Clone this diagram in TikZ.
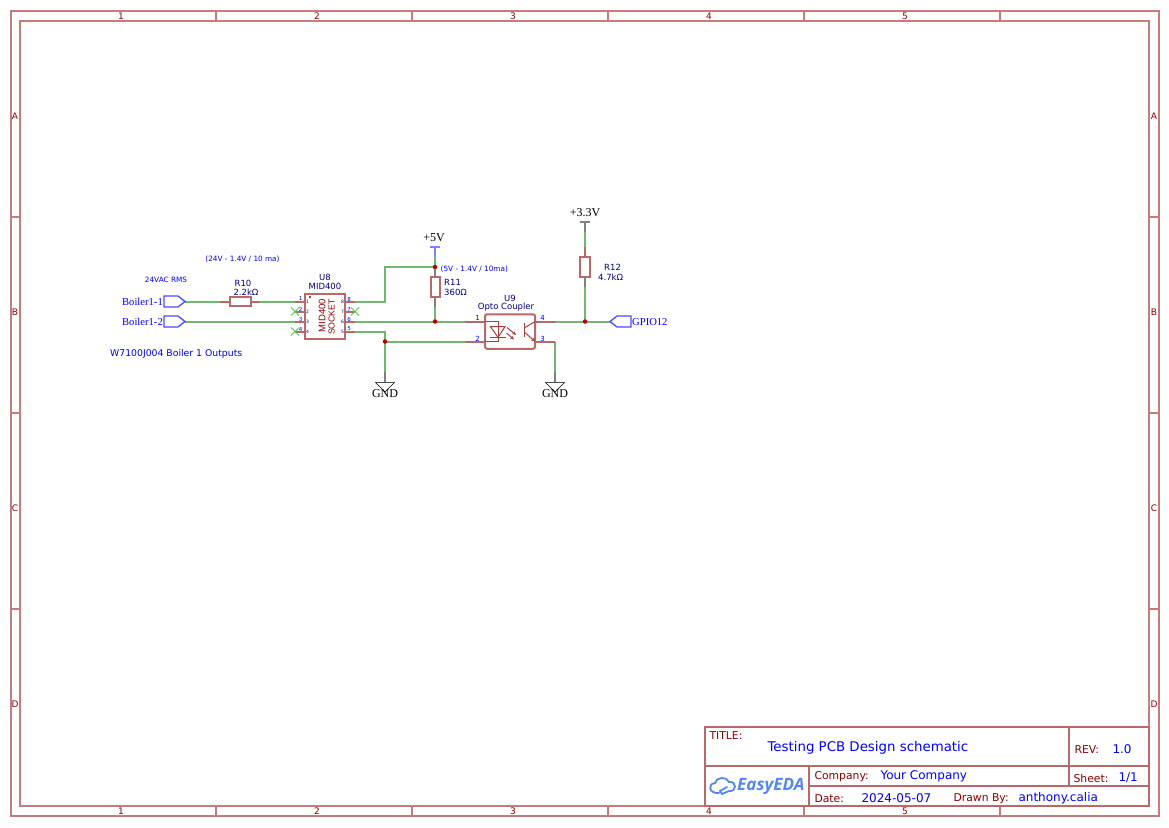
\documentclass[tikz,border=0pt]{standalone}
\usepackage{fontspec}
\setmainfont{DejaVu Sans}
\newfontfamily\netfont{Liberation Serif}
\newfontfamily\partfont{Liberation Sans}
\newfontfamily\logofont{Open Sans}
\usetikzlibrary{arrows.meta}
\definecolor{fr}{HTML}{880000}
\definecolor{fp}{HTML}{C47C7C}
\definecolor{gn}{HTML}{70B870}
\definecolor{tx}{HTML}{0000FF}
\definecolor{np}{HTML}{000080}
\definecolor{pn}{HTML}{808080}
\definecolor{pr}{HTML}{B86A6A}
\definecolor{lg}{HTML}{5588EE}
\definecolor{nc}{HTML}{55CC55}
\tikzset{
  frameline/.style={draw=fp, line width=2pt},
  titleline/.style={draw=pr, line width=2pt},
  netwire/.style={draw=gn, line width=2pt},
  pinline/.style={draw=pr, line width=2pt},
  stemline/.style={draw=pn, line width=2pt},
  bluestem/.style={draw=tx!50!white, line width=2pt},
  partbox/.style={draw=pr, line width=2pt, inner sep=0pt},
  symline/.style={draw=fr!75!white, line width=1pt},
  junction/.style={circle, fill=fr!60!red, inner sep=0pt, minimum size=4.5pt},
  ticktext/.style={text=fr, font=\fontsize{9}{9}\selectfont},
  titlekey/.style={anchor=west, text=fr, font=\fontsize{10.8}{10.8}\selectfont},
  titleval/.style={anchor=west, text=tx, font=\fontsize{12}{12}\selectfont},
  reflabel/.style={text=np, font=\fontsize{8.5}{8.5}\selectfont},
  notelabel/.style={text=tx, font=\fontsize{7.3}{7.3}\selectfont},
  pinnum/.style={text=tx, font=\fontsize{5.5}{5.5}\selectfont, inner sep=0pt},
  pinname/.style={text=np, font=\fontsize{4.5}{4.5}\selectfont, inner sep=0pt},
  netlabel/.style={text=tx, font=\netfont\fontsize{10.6}{10.6}\selectfont},
  powerlabel/.style={text=black, font=\netfont\fontsize{12}{12}\selectfont},
  netport/.pic={\draw[draw=tx!70!white, line width=1.3pt] (-21,-5.5) -- (-7,-5.5) -- (0,0) -- (-7,5.5) -- (-21,5.5) -- cycle;},
  netportl/.pic={\draw[draw=tx!70!white, line width=1.3pt] (21,-5.5) -- (7,-5.5) -- (0,0) -- (7,5.5) -- (21,5.5) -- cycle;},
  nomark/.pic={\draw[draw=nc, line width=0.8pt] (-4,-4) -- (4,4) (-4,4) -- (4,-4);},
  gndmark/.pic={\draw[draw=black, line width=0.6pt] (-10,0) -- (0,10) -- (10,0); \draw[draw=black!70!white, line width=1pt] (-10,0) -- (10,0);}
}
\begin{document}
\begin{tikzpicture}[x=1pt, y=-1pt]
  \useasboundingbox (0,0) rectangle (1169,827);

  % Sheet frame
  \draw[frameline] (10.5,11) rectangle (1159,816);
  \draw[frameline] (20,21) rectangle (1149,806);
  \foreach \x in {216,412,608,804,1000} {
    \draw[frameline] (\x,11) -- ++(0,10);
    \draw[frameline] (\x,806) -- ++(0,10);
  }
  \foreach \y in {217,413,609} {
    \draw[frameline] (10.5,\y) -- ++(9.5,0);
    \draw[frameline] (1149,\y) -- ++(10,0);
  }
  \foreach \x/\t in {121/1,317/2,513/3,709/4,905/5} {
    \node[ticktext] (top\t) at (\x,16) {\t};
    \node[ticktext] (bot\t) at (\x,811) {\t};
  }
  \foreach \y/\t in {116/A,312/B,508/C,704/D} {
    \node[ticktext] (left\t) at (15,\y) {\t};
    \node[ticktext] (right\t) at (1154,\y) {\t};
  }

  % Title block
  \draw[titleline] (705,727) rectangle (1149,806);
  \draw[titleline] (705,766) -- (1149,766);
  \draw[titleline] (809,786) -- (1149,786);
  \draw[titleline] (1069,727) -- (1069,786);
  \draw[titleline] (809,766) -- (809,806);
  \node[titlekey] (titlekey) at (706,735.5) {TITLE:};
  \node[titleval, font=\fontsize{13.35}{13.35}\selectfont] (titleval) at (764,748) {Testing PCB Design schematic};
  \node[titlekey] (revkey) at (1071,749.5) {REV:};
  \node[titleval] (revval) at (1109,749) {1.0};
  \node[titlekey] (compkey) at (811,777) {Company:};
  \node[titleval] (compval) at (877,776) {Your Company};
  \node[titlekey] (sheetkey) at (1070,778) {Sheet:};
  \node[titleval] (sheetval) at (1115,778) {1/1};
  \node[titlekey] (datekey) at (811,798.5) {Date:};
  \node[titleval] (dateval) at (858,798) {2024-05-07};
  \node[titlekey] (drawnkey) at (950,798.5) {Drawn By:};
  \node[titleval] (drawnval) at (1015,798) {anthony.calia};

  % Logo
  \draw[draw=lg, line width=1.8pt, line cap=round] (719,793) .. controls (709,794) and (707,784) .. (715,783)
    .. controls (716,777) and (727,776) .. (729,782) .. controls (737,781) and (737,792) .. (729,791)
    -- (722,794) -- (720,791) -- (727,787);
  \node[anchor=west, text=lg, inner sep=0pt, font=\logofont\bfseries\itshape\fontsize{17}{17}\selectfont] (logotext) at (737,786.5) {EasyEDA};

  % Pins
  \coordinate (portA) at (185,301.5);
  \coordinate (portB) at (185,321.5);
  \coordinate (u8p1) at (295,301.5);
  \coordinate (u8p2) at (295,311.5);
  \coordinate (u8p3) at (295,321.5);
  \coordinate (u8p4) at (295,331.5);
  \coordinate (u8p8) at (355,301.5);
  \coordinate (u8p7) at (355,311.5);
  \coordinate (u8p6) at (355,321.5);
  \coordinate (u8p5) at (355,331.5);
  \coordinate (u9p1) at (465,321.5);
  \coordinate (u9p2) at (465,341.5);
  \coordinate (u9p4) at (555,321.5);
  \coordinate (u9p3) at (555,341.5);
  \coordinate (portC) at (610,321.5);
  \coordinate (elbowA) at (385,301.5);
  \coordinate (elbowB) at (385,267);
  \coordinate (elbowC) at (385,331.5);
  \coordinate (gndA) at (385,372);
  \coordinate (gndB) at (555,372);
  \coordinate (vccA) at (435,257);
  \coordinate (vccB) at (585,232);
  \coordinate (r10a) at (220,301.5);
  \coordinate (r10b) at (260,301.5);
  \coordinate (r11a) at (435,267);
  \coordinate (r11b) at (435,307);
  \coordinate (r12a) at (585,247);
  \coordinate (r12b) at (585,287);
  \coordinate (dotA) at (435,321.5);
  \coordinate (dotB) at (385,341.5);
  \coordinate (dotC) at (585,321.5);

  % Wires
  \draw[netwire] (portA) -- (r10a);
  \draw[netwire] (r10b) -- (u8p1);
  \draw[netwire] (portB) -- (u8p3);
  \draw[netwire] (u8p8) -- (elbowA) -- (elbowB) -- (r11a);
  \draw[netwire] (vccA) -- (r11a);
  \draw[netwire] (r11b) -- (dotA);
  \draw[netwire] (u8p6) -- (dotA) -- (u9p1);
  \draw[netwire] (u8p5) -- (elbowC) -- (dotB) -- (gndA);
  \draw[netwire] (dotB) -- (u9p2);
  \draw[netwire] (u9p4) -- (dotC) -- (portC);
  \draw[netwire] (u9p3) -- (gndB);
  \draw[netwire] (vccB) -- (r12a);
  \draw[netwire] (r12b) -- (dotC);

  % Junctions
  \node[junction] (j5v) at (r11a) {};
  \node[junction] (jr11) at (dotA) {};
  \node[junction] (jgnd) at (dotB) {};
  \node[junction] (jr12) at (dotC) {};

  % Ports
  \pic at (portA) {netport};
  \pic at (portB) {netport};
  \pic at (portC) {netportl};
  \node[netlabel, anchor=east, inner sep=0pt] (netA) at (163,302) {Boiler1-1};
  \node[netlabel, anchor=east, inner sep=0pt] (netB) at (163,322) {Boiler1-2};
  \node[netlabel, anchor=west, inner sep=0pt] (netC) at (632,322) {GPIO12};

  % R10
  \node[partbox, minimum width=21pt, minimum height=9pt] (R10) at (240,301.5) {};
  \draw[pinline] (r10a) -- (R10.west);
  \draw[pinline] (R10.east) -- (r10b);
  \node[reflabel] (R10ref) at (243,283) {R10};
  \node[reflabel] (R10val) at (246,292) {2.2kΩ};

  % R11
  \node[partbox, minimum width=9pt, minimum height=20.5pt] (R11) at (435,287) {};
  \draw[stemline] (j5v) -- (R11.north);
  \draw[stemline] (R11.south) -- (r11b);
  \node[reflabel, anchor=west, inner sep=0pt] (R11ref) at (444,282) {R11};
  \node[reflabel, anchor=west, inner sep=0pt] (R11val) at (444,292) {360Ω};

  % R12
  \node[partbox, minimum width=10pt, minimum height=20.5pt] (R12) at (585,267) {};
  \draw[pinline] (r12a) -- (R12.north);
  \draw[stemline] (R12.south) -- (r12b);
  \node[reflabel, anchor=west, inner sep=0pt] (R12ref) at (604,267) {R12};
  \node[reflabel, anchor=west, inner sep=0pt] (R12val) at (598,277) {4.7kΩ};

  % U8
  \node[partbox, minimum width=40.5pt, minimum height=44.5pt] (U8) at (325,316.5) {};
  \foreach \n in {1,2,3,4} {
    \draw[pinline] (u8p\n) -- ++(10,0);
  }
  \foreach \n in {5,6,7,8} {
    \draw[pinline] (u8p\n) -- ++(-10,0);
  }
  \fill[fr] (310,297) circle (1.2pt);
  \node[reflabel] (U8ref) at (325,277) {U8};
  \node[reflabel] (U8val) at (325,286) {MID400};
  \node[rotate=90, text=fr, inner sep=0pt, font=\partfont\fontsize{9.5}{9.5}\selectfont] (U8nameA) at (322,315.5) {MID400};
  \node[rotate=90, text=fr, inner sep=0pt, font=\partfont\fontsize{8.7}{8.7}\selectfont] (U8nameB) at (331.5,317) {SOCKET};
  \foreach \n/\y in {1/298.5,2/309,3/319,4/329} {
    \node[pinnum] (u8num\n) at (300.5,\y) {\n};
  }
  \foreach \n/\y in {8/299,7/309,6/319,5/329} {
    \node[pinnum] (u8num\n) at (349,\y) {\n};
  }
  \foreach \n/\y in {1/301.5,2/311.5,3/321.5,4/331.5} {
    \node[pinname] (u8in\n) at (307.5,\y) {\n};
  }
  \foreach \n/\y in {8/301.5,7/311.5,6/321.5,5/331.5} {
    \node[pinname] (u8in\n) at (342.5,\y) {\n};
  }
  \pic at (u8p2) {nomark};
  \pic at (u8p4) {nomark};
  \pic at (u8p7) {nomark};

  % U9
  \node[partbox, rounded corners=2pt, minimum width=50pt, minimum height=34.5pt] (U9) at (510,331.5) {};
  \draw[pinline] (u9p1) -- ++(20,0);
  \draw[pinline] (u9p2) -- ++(20,0);
  \draw[pinline] (u9p4) -- ++(-20,0);
  \draw[pinline] (u9p3) -- ++(-20,0);
  \draw[symline] (485,321.5) -- (498,321.5) -- (498,341.5) -- (485,341.5);
  \draw[symline] (490.5,326.7) -- (505,326.7) -- (498,337.3) -- cycle;
  \draw[symline] (489.5,337.3) -- (506,337.3);
  \draw[symline, -{Stealth[length=4pt,width=3.5pt]}] (507,327.5) -- (516,335);
  \draw[symline, -{Stealth[length=4pt,width=3.5pt]}] (506.5,333) -- (514,339.5);
  \draw[symline] (524.3,323) -- (524.3,337);
  \draw[symline] (524.3,328) -- (535,321.5);
  \draw[symline, -{Stealth[length=4pt,width=3.5pt]}] (524.3,332) -- (535,341.5);
  \node[reflabel] (U9ref) at (510,298) {U9};
  \node[reflabel] (U9val) at (506,307) {Opto Coupler};
  \node[pinnum, font=\fontsize{7}{7}\selectfont] (u9num1) at (477.5,318) {1};
  \node[pinnum, font=\fontsize{7}{7}\selectfont] (u9num2) at (477.5,338.5) {2};
  \node[pinnum, font=\fontsize{7}{7}\selectfont] (u9num4) at (542.5,318) {4};
  \node[pinnum, font=\fontsize{7}{7}\selectfont] (u9num3) at (542.5,338.5) {3};

  % Power
  \coordinate (vccAtop) at (435,247);
  \coordinate (vccBtop) at (585,222);
  \draw[bluestem] (vccAtop) -- (vccA);
  \draw[bluestem] (430,247) -- (440,247);
  \draw[stemline] (vccBtop) -- (vccB);
  \draw[stemline] (580,222) -- (590,222);
  \node[powerlabel] (vccAlabel) at (434,238) {+5V};
  \node[powerlabel] (vccBlabel) at (585,213) {+3.3V};
  \coordinate (gndAbot) at (385,382);
  \coordinate (gndBbot) at (555,382);
  \draw[stemline] (gndA) -- (gndAbot);
  \draw[stemline] (gndB) -- (gndBbot);
  \pic at (gndAbot) {gndmark};
  \pic at (gndBbot) {gndmark};
  \node[powerlabel] (gndAlabel) at (385,394) {GND};
  \node[powerlabel] (gndBlabel) at (555,394) {GND};

  % Notes
  \node[notelabel] (noteA) at (242.5,259.5) {(24V - 1.4V / 10 ma)};
  \node[notelabel] (noteB) at (166,279.5) {24VAC RMS};
  \node[notelabel, anchor=west, inner sep=0pt] (noteC) at (440.5,269.5) {(5V - 1.4V / 10ma)};
  \node[anchor=west, inner sep=0pt, text=tx, font=\fontsize{9.3}{9.3}\selectfont] (noteD) at (110,354) {W7100J004 Boiler 1 Outputs};
\end{tikzpicture}
\end{document}
